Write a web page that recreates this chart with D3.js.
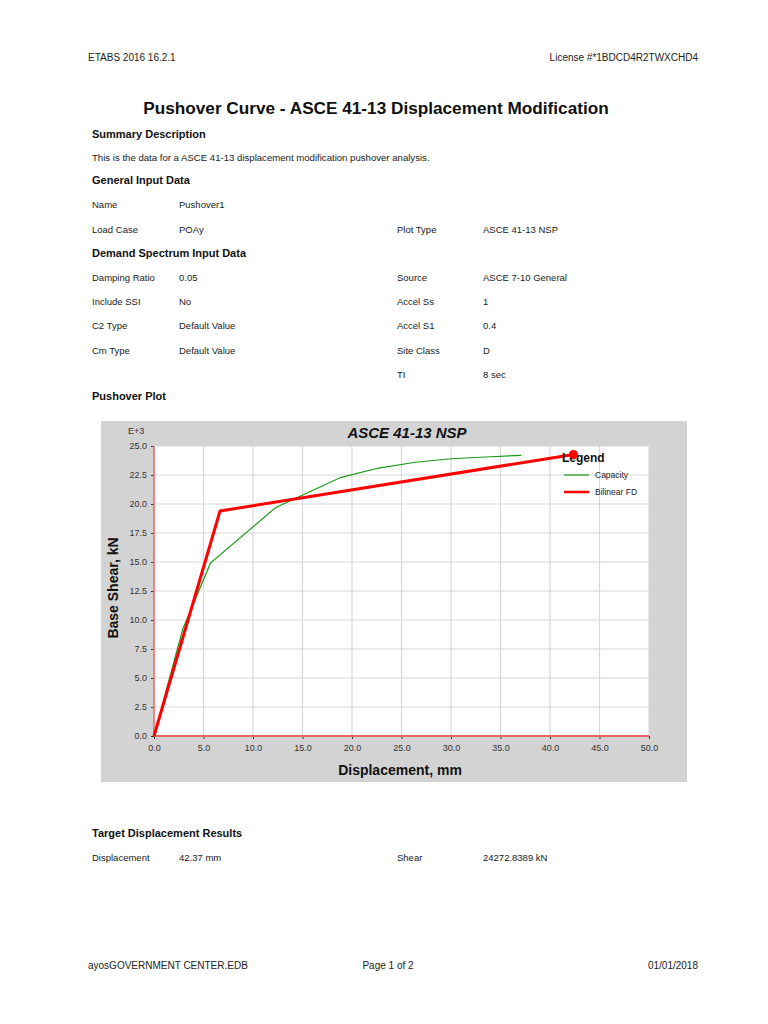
<!doctype html>
<html lang="en">
  <head>
    <meta charset="UTF-8" />
    <title>Pushover Curve - ASCE 41-13</title>
    <style>
      body {
        margin: 0;
        background: #fff;
        font-family: "Liberation Sans", Arial, sans-serif;
      }
      svg {
        display: block;
      }
      .txt {
        font-size: 10px;
        fill: #222;
      }
      .hdr {
        font-size: 11px;
        font-weight: bold;
        fill: #111;
      }
      .grid line {
        stroke: #d8d8d8;
        stroke-width: 1.2px;
      }
      .axis text {
        font-size: 9px;
        fill: #333;
      }
    </style>
  </head>
  <body>
    <script src="https://d3js.org/d3.v7.min.js"></script>
    <script>
      // Chart data (displacement mm, base shear E+3 kN)
      const capacityX = [0, 2.9, 5.7, 12.3, 18.9, 22.7, 26.4, 30.0, 33.5, 37.1];
      const capacityY = [0, 9.2, 14.9, 19.7, 22.3, 23.1, 23.6, 23.9, 24.05, 24.2];
      const bilinearX = [0, 6.67, 42.37];
      const bilinearY = [0, 19.4, 24.27];
      const xTicks = [0, 5, 10, 15, 20, 25, 30, 35, 40, 45, 50];
      const yTicks = [0, 2.5, 5, 7.5, 10, 12.5, 15, 17.5, 20, 22.5, 25];
      const legendNames = ["Capacity", "Bilinear FD"];
      const legendColors = ["#1a9a1a", "#ff0000"];

      // Report text rows: [label, value, label, value]
      const inputRows = [
        { y: 204, cells: ["Name", "Pushover1", "", ""] },
        { y: 229, cells: ["Load Case", "POAy", "Plot Type", "ASCE 41-13 NSP"] },
        { y: 277, cells: ["Damping Ratio", "0.05", "Source", "ASCE 7-10 General"] },
        { y: 301, cells: ["Include SSI", "No", "Accel Ss", "1"] },
        { y: 325, cells: ["C2 Type", "Default Value", "Accel S1", "0.4"] },
        { y: 350, cells: ["Cm Type", "Default Value", "Site Class", "D"] },
        { y: 374, cells: ["", "", "TI", "8 sec"] },
        { y: 857, cells: ["Displacement", "42.37 mm", "Shear", "24272.8389 kN"] },
      ];
      const headings = [
        { y: 134, t: "Summary Description" },
        { y: 180, t: "General Input Data" },
        { y: 253, t: "Demand Spectrum Input Data" },
        { y: 396, t: "Pushover Plot" },
        { y: 833, t: "Target Displacement Results" },
      ];
      const colX = [92, 179, 397, 483];

      const W = 768, H = 1024;
      const svg = d3.select("body").append("svg").attr("width", W).attr("height", H);

      // page header / footer
      svg.append("text").attr("class", "txt").attr("x", 88).attr("y", 61).text("ETABS 2016 16.2.1");
      svg.append("text").attr("class", "txt").attr("x", 698).attr("y", 61)
        .attr("text-anchor", "end").text("License #*1BDCD4R2TWXCHD4");
      svg.append("text").attr("x", 376).attr("y", 114).attr("text-anchor", "middle")
        .style("font-size", "17.2px").style("font-weight", "bold").style("fill", "#111")
        .text("Pushover Curve - ASCE 41-13 Displacement Modification");
      svg.append("text").attr("class", "txt").attr("x", 88).attr("y", 969).text("ayosGOVERNMENT CENTER.EDB");
      svg.append("text").attr("class", "txt").attr("x", 388).attr("y", 969)
        .attr("text-anchor", "middle").text("Page 1 of 2");
      svg.append("text").attr("class", "txt").attr("x", 698).attr("y", 969)
        .attr("text-anchor", "end").text("01/01/2018");

      headings.forEach((h) => {
        svg.append("text").attr("class", "hdr").attr("x", 92).attr("y", h.y + 4).text(h.t);
      });
      svg.append("text").attr("class", "txt").attr("x", 92).attr("y", 161)
        .style("font-size", "9.6px")
        .text("This is the data for a ASCE 41-13 displacement modification pushover analysis.");
      inputRows.forEach((r) => {
        r.cells.forEach((c, i) => {
          if (c) svg.append("text").attr("class", "txt").attr("x", colX[i]).attr("y", r.y + 3.5)
            .style("font-size", "9.5px").text(c);
        });
      });

      // chart panel
      const panel = { x: 101, y: 421, w: 586, h: 361 };
      svg.append("rect").attr("x", panel.x).attr("y", panel.y)
        .attr("width", panel.w).attr("height", panel.h).attr("fill", "#d3d3d3");

      const x = d3.scaleLinear().domain([0, 50]).range([154, 649]);
      const y = d3.scaleLinear().domain([0, 25]).range([736, 446]);

      svg.append("rect").attr("x", x(0)).attr("y", y(25))
        .attr("width", x(50) - x(0)).attr("height", y(0) - y(25)).attr("fill", "#fff");

      // grid
      const grid = svg.append("g").attr("class", "grid");
      grid.selectAll(".gx").data(xTicks.slice(1)).enter().append("line")
        .attr("x1", (d) => x(d)).attr("x2", (d) => x(d)).attr("y1", y(0)).attr("y2", y(25));
      grid.selectAll(".gy").data(yTicks.slice(1)).enter().append("line")
        .attr("x1", x(0)).attr("x2", x(50)).attr("y1", (d) => y(d)).attr("y2", (d) => y(d));

      // axes
      const xAxis = svg.append("g").attr("class", "axis")
        .attr("transform", `translate(0,${y(0)})`)
        .call(d3.axisBottom(x).tickValues(xTicks).tickFormat(d3.format(".1f")).tickSize(3).tickPadding(6));
      const yAxis = svg.append("g").attr("class", "axis")
        .attr("transform", `translate(${x(0)},0)`)
        .call(d3.axisLeft(y).tickValues(yTicks).tickFormat(d3.format(".1f")).tickSize(3).tickPadding(4));
      [xAxis, yAxis].forEach((a) => {
        a.select(".domain").remove();
        a.selectAll(".tick line").attr("stroke", "#333");
      });
      svg.append("line").attr("x1", x(0)).attr("x2", x(50)).attr("y1", y(0)).attr("y2", y(0))
        .attr("stroke", "#f06060").attr("stroke-width", 2);
      svg.append("line").attr("x1", x(0)).attr("x2", x(0)).attr("y1", y(0)).attr("y2", y(25))
        .attr("stroke", "#f06060").attr("stroke-width", 1.5);

      svg.append("text").attr("x", 128).attr("y", 434).style("font-size", "9px").style("fill", "#333").text("E+3");
      svg.append("text").attr("x", 407).attr("y", 438).attr("text-anchor", "middle")
        .style("font-size", "15px").style("font-weight", "bold").style("font-style", "italic")
        .style("fill", "#111").text("ASCE 41-13 NSP");
      svg.append("text").attr("x", 400).attr("y", 775).attr("text-anchor", "middle")
        .style("font-size", "14px").style("font-weight", "bold").style("fill", "#111")
        .text("Displacement, mm");
      svg.append("text").attr("transform", "translate(118,588) rotate(-90)").attr("text-anchor", "middle")
        .style("font-size", "14px").style("font-weight", "bold").style("fill", "#111")
        .text("Base Shear, kN");

      // series
      const line = d3.line().x((d) => x(d[0])).y((d) => y(d[1]));
      const capData = capacityX.map((v, i) => [v, capacityY[i]]);
      const biData = bilinearX.map((v, i) => [v, bilinearY[i]]);
      svg.append("path").datum(capData).attr("d", line).attr("fill", "none")
        .attr("stroke", legendColors[0]).attr("stroke-width", 1.2);
      svg.append("path").datum(biData).attr("d", line).attr("fill", "none")
        .attr("stroke", legendColors[1]).attr("stroke-width", 3).attr("stroke-linejoin", "round");

      // legend
      svg.append("text").attr("x", 562).attr("y", 462).style("font-size", "12px")
        .style("font-weight", "bold").style("fill", "#111").text("Legend");
      legendNames.forEach((n, i) => {
        const ly = 475 + i * 17;
        svg.append("line").attr("x1", 564).attr("x2", 589).attr("y1", ly).attr("y2", ly)
          .attr("stroke", legendColors[i]).attr("stroke-width", i === 0 ? 1.2 : 2.5);
        svg.append("text").attr("x", 595).attr("y", ly + 3).style("font-size", "8.5px")
          .style("fill", "#222").text(n);
      });

      // target point
      const last = biData[biData.length - 1];
      svg.append("circle").attr("cx", x(last[0])).attr("cy", y(last[1])).attr("r", 4.5).attr("fill", "#ff0000");
    </script>
  </body>
</html>
